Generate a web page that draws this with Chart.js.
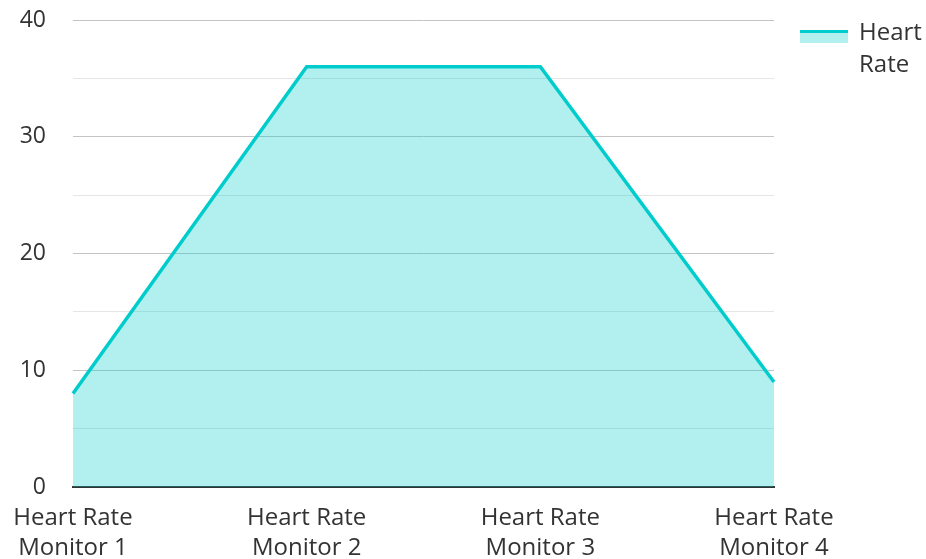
<!DOCTYPE html>
<html>
<head>
<meta charset="utf-8">
<script src="https://cdn.jsdelivr.net/npm/chart.js@4/dist/chart.umd.min.js"></script>
<style>
  html, body { margin: 0; padding: 0; background: #fff; }
  #wrap { width: 926px; height: 559px; position: relative; }
</style>
</head>
<body>
<div id="wrap"><canvas id="chart"></canvas></div>
<script>
/* ===== Heart rate area chart ===== */

const categories = [
  ['Heart Rate', 'Monitor 1'],
  ['Heart Rate', 'Monitor 2'],
  ['Heart Rate', 'Monitor 3'],
  ['Heart Rate', 'Monitor 4']
];
const heartRate = [8, 36, 36, 9];
const seriesName = 'Heart Rate';
const legendLines = ['Heart', 'Rate'];
const yMin = 0, yMax = 40, yStep = 5;

const LINE = '#00cccc';
const FILL = 'rgba(0, 204, 204, 0.3)';
const FONT = "'Open Sans', sans-serif";
const TEXT = '#333333';

// legend drawn by hand: wide swatch with a line on top, wrapped label
const sideLegend = {
  id: 'sideLegend',
  afterDraw(chart) {
    const ctx = chart.ctx;
    const ds = chart.data.datasets[0];
    const x = chart.chartArea.right + 26;
    const y = 31;
    ctx.save();
    ctx.fillStyle = ds.backgroundColor;
    ctx.fillRect(x, y, 48, 12);
    ctx.fillStyle = ds.borderColor;
    ctx.fillRect(x, y - 1, 48, 3);
    ctx.fillStyle = TEXT;
    ctx.font = '24px ' + FONT;
    ctx.textBaseline = 'middle';
    legendLines.forEach((t, i) => ctx.fillText(t, x + 59, y + 2 + i * 32));
    ctx.restore();
  }
};

Chart.defaults.font.family = FONT;
Chart.defaults.font.size = 24;
Chart.defaults.color = TEXT;

new Chart(document.getElementById('chart'), {
  type: 'line',
  data: {
    labels: categories,
    datasets: [{
      label: seriesName,
      data: heartRate,
      borderColor: LINE,
      backgroundColor: FILL,
      borderWidth: 3.5,
      fill: 'origin',
      pointRadius: 0,
      tension: 0
    }]
  },
  options: {
    responsive: true,
    maintainAspectRatio: false,
    animation: false,
    layout: { padding: { top: 0, right: 152, left: 0, bottom: 0 } },
    plugins: {
      legend: { display: false },
      tooltip: { enabled: false }
    },
    scales: {
      x: {
        offset: false,
        z: 1,
        grid: { display: false, drawTicks: false },
        border: { display: true, color: '#333', width: 2 },
        ticks: {
          maxRotation: 0,
          autoSkip: false,
          padding: 16,
          font: { size: 24, lineHeight: 1.25 }
        },
        afterFit(scale) {
          scale.height = 72;
          scale.paddingLeft = 0;
          scale.paddingRight = 0;
        }
      },
      y: {
        min: yMin,
        max: yMax,
        grid: {
          drawTicks: false,
          color: c => (c.tick.value % 10 === 0 ? '#c4c4c4' : '#e6e6e6'),
          lineWidth: 1
        },
        border: { display: false },
        ticks: {
          stepSize: yStep,
          padding: 27,
          font: { size: 23 },
          callback: v => (v % 10 === 0 ? v : '')
        },
        afterFit(scale) {
          scale.width = 73;
          // tick padding would otherwise push the plot top down
          scale.paddingTop = 20;
          scale.paddingBottom = 0;
        }
      }
    }
  },
  plugins: [sideLegend]
});
</script>
</body>
</html>
